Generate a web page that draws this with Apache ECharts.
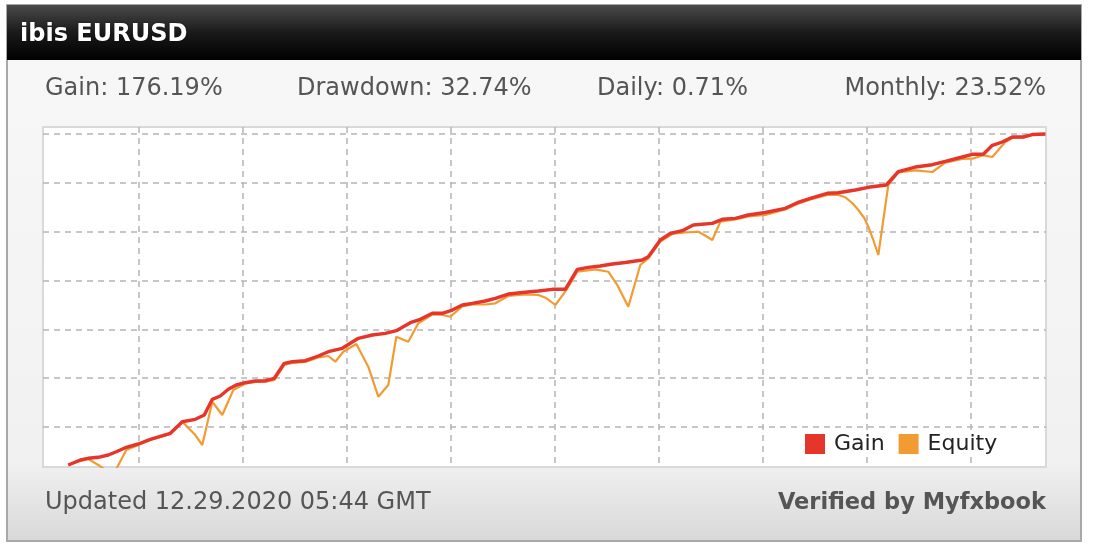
<!DOCTYPE html>
<html>
<head>
<meta charset="utf-8">
<script src="https://cdn.jsdelivr.net/npm/echarts@6/dist/echarts.min.js"></script>
<style>
  html, body { margin: 0; padding: 0; background: #ffffff; }
  #chart { width: 1093px; height: 550px; }
</style>
</head>
<body>
<div id="chart"></div>
<script>
// ---- data (x = days since start, y = % gain) ----
const gainDays = [0, 6, 10, 15, 20, 24, 29, 35, 41, 51, 57, 63.5, 68, 72, 76, 80, 84, 88.5, 93.5, 98.5, 103, 108, 112, 118.5, 125, 130, 137, 145, 152, 158.5, 164, 171, 176, 182, 187, 192, 197, 202, 208.5, 213.5, 220, 228.5, 235, 242, 248.5, 254.5, 260, 266, 272, 278.5, 287, 290, 296, 301, 307, 312.5, 322, 327, 333.5, 340, 348.5, 358.5, 364.5, 371, 379.5, 385, 393.5, 400, 409, 415, 423.5, 432, 438.5, 447, 452, 457.5, 462, 467, 472, 477.5, 482, 488.5];
const gainValues = [0, 2.66, 3.57, 4.10, 5.32, 7.08, 9.42, 11.18, 13.68, 16.87, 23.05, 24.33, 26.61, 34.97, 36.73, 40.29, 42.58, 43.81, 44.71, 44.87, 46.15, 54.13, 54.99, 55.52, 58.02, 60.31, 62.12, 67.44, 69.20, 70.10, 71.49, 75.75, 77.55, 80.75, 80.75, 82.50, 85.17, 86.07, 87.30, 88.73, 91.02, 91.93, 92.62, 93.52, 93.52, 104.17, 105.23, 105.93, 106.99, 107.79, 109.12, 110.88, 119.77, 123.33, 124.72, 127.75, 128.65, 130.78, 131.31, 133.07, 134.40, 136.64, 139.62, 141.96, 144.62, 144.94, 146.38, 147.82, 149.04, 156.12, 158.62, 159.85, 161.66, 163.95, 165.38, 165.38, 170.17, 171.93, 174.59, 174.59, 175.90, 176.19];
const equityDays = [0, 6, 10, 15, 20, 24, 29, 35, 41, 51, 57, 63.5, 67, 72, 77, 82.5, 88.5, 93.5, 98.5, 103, 108, 112, 118.5, 125, 130, 133.5, 137.5, 144, 150, 155, 160, 164, 170, 175, 182, 187, 191, 197, 202, 208.5, 213.5, 220, 228.5, 235, 239, 243.5, 248.5, 254.5, 263.5, 270, 274.5, 280, 286, 290, 296, 302, 308.5, 315, 318, 322, 326, 333.5, 340, 348.5, 358.5, 364.5, 371, 379.5, 385, 388.5, 392, 395, 398, 400, 402.5, 405, 407.5, 410, 415, 423.5, 432, 438.5, 447, 452, 457.5, 462, 468.5, 472, 477.5, 482, 488.5];
const equityValues = [0, 2.13, 3.19, 0, -3.73, -2.13, 7.98, 10.65, 13.31, 16.50, 23.05, 15.97, 10.65, 33.69, 26.61, 39.92, 43.38, 44.18, 44.18, 45.24, 53.23, 54.29, 54.83, 57.22, 58.02, 54.98, 60.31, 64.41, 52.32, 36.36, 42.58, 68.29, 65.63, 75.43, 80.11, 79.84, 78.94, 84.37, 85.43, 85.43, 86.07, 89.96, 90.76, 90.49, 88.89, 85.17, 92.25, 102.89, 104.17, 102.89, 95.81, 84.26, 106.46, 110.02, 118.97, 122.96, 123.76, 124.18, 122.43, 119.77, 129.51, 130.68, 132.27, 133.07, 136.00, 138.93, 141.32, 143.72, 143.72, 142.49, 139.46, 135.73, 131.48, 126.84, 119.77, 111.78, 130.41, 149.04, 155.70, 156.87, 155.96, 160.91, 162.88, 163.04, 164.85, 163.95, 171.93, 174.06, 174.33, 175.76, 175.92];
// gridline positions (axis tick values)
const xGridTicks = [35.35, 87.35, 139.35, 191.35, 243.35, 295.35, 347.35, 399.35, 451.35];
const yGridTicks = [20.23, 46.22, 72.21, 98.20, 124.19, 150.18, 176.17];
// texts
const titleText = 'ibis EURUSD';
const statNames = ['Gain', 'Drawdown', 'Daily', 'Monthly'];
const statValues = ['176.19%', '32.74%', '0.71%', '23.52%'];
const updatedText = 'Updated 12.29.2020 05:44 GMT';
const verifiedText = 'Verified by Myfxbook';
const seriesNames = ['Gain', 'Equity'];

const FONT = '"DejaVu Sans", Verdana, sans-serif';
const chart = echarts.init(document.getElementById('chart'), null, { renderer: 'canvas' });

const statX = [45, 297, 597, 1046];
const statAlign = ['left', 'left', 'left', 'right'];
const statGraphics = statNames.map((n, i) => ({
  type: 'text', x: statX[i], y: 89, z: 10,
  style: { text: n + ': ' + statValues[i], font: '24px ' + FONT, fill: '#555555',
           align: statAlign[i], verticalAlign: 'middle' }
}));

const option = {
  animation: false,
  backgroundColor: '#ffffff',
  graphic: [
    { type: 'rect', shape: { x: 7, y: 5, width: 1074, height: 536 }, z: -10,
      style: { fill: new echarts.graphic.LinearGradient(0, 0, 0, 1, [
        { offset: 0, color: '#f8f8f8' }, { offset: 0.85, color: '#f1f1f1' }, { offset: 1, color: '#d8d8d8' }]),
        stroke: '#a8a8a8', lineWidth: 2 } },
    { type: 'rect', shape: { x: 7, y: 5, width: 1074, height: 55 }, z: -9,
      style: { fill: new echarts.graphic.LinearGradient(0, 0, 0, 1, [
        { offset: 0, color: '#4a4a4a' }, { offset: 0.5, color: '#1a1a1a' }, { offset: 1, color: '#000000' }]) } },
    { type: 'text', x: 20, y: 35, z: 10,
      style: { text: titleText, font: 'bold 24px ' + FONT, fill: '#ffffff', align: 'left', verticalAlign: 'middle',
               textShadowColor: 'rgba(0,0,0,0.6)', textShadowBlur: 2 } },
    { type: 'rect', shape: { x: 43, y: 127, width: 1003, height: 340 }, z: -8,
      style: { fill: '#ffffff' } },
    ...statGraphics,
    { type: 'text', x: 45, y: 503, z: 10,
      style: { text: updatedText, font: '24px ' + FONT, fill: '#555555', align: 'left', verticalAlign: 'middle' } },
    { type: 'text', x: 1046, y: 503, z: 10,
      style: { text: verifiedText, font: 'bold 22.5px ' + FONT, fill: '#555555', align: 'right', verticalAlign: 'middle' } }
  ],
  grid: { left: 43, top: 127, width: 1003, height: 340, show: true, borderColor: '#d9d9d9', borderWidth: 2,
          backgroundColor: 'transparent', containLabel: false },
  legend: {
    data: seriesNames, left: 803, top: 431, icon: 'rect', itemWidth: 20, itemHeight: 20, itemGap: 14,
    backgroundColor: '#ffffff', padding: [2, 2, 2, 2],
    textStyle: { fontFamily: FONT, fontSize: 22, color: '#222222', padding: [0, 0, 0, 4] }
  },
  xAxis: {
    type: 'value', min: -12.65, max: 488.85,
    axisLine: { show: false }, axisLabel: { show: false },
    axisTick: { show: false, customValues: xGridTicks },
    splitLine: { show: true, lineStyle: { color: '#b5b5b5', width: 1.5, type: [6, 5] } }
  },
  yAxis: {
    type: 'value', min: -1.06, max: 179.92,
    axisLine: { show: false }, axisLabel: { show: false },
    axisTick: { show: false, customValues: yGridTicks },
    splitLine: { show: true, lineStyle: { color: '#b5b5b5', width: 1.5, type: [6, 5] } }
  },
  series: [
    { name: 'Equity', type: 'line', showSymbol: false, symbol: 'none', clip: true,
      data: equityDays.map((d, i) => [d, equityValues[i]]),
      itemStyle: { color: '#f29b33' }, lineStyle: { color: '#f29b33', width: 2.2 } },
    { name: 'Gain', type: 'line', showSymbol: false, symbol: 'none', clip: true,
      data: gainDays.map((d, i) => [d, gainValues[i]]),
      itemStyle: { color: '#e6352a' }, lineStyle: { color: '#e6352a', width: 3.4 } }
  ]
};
chart.setOption(option);
</script>
</body>
</html>
